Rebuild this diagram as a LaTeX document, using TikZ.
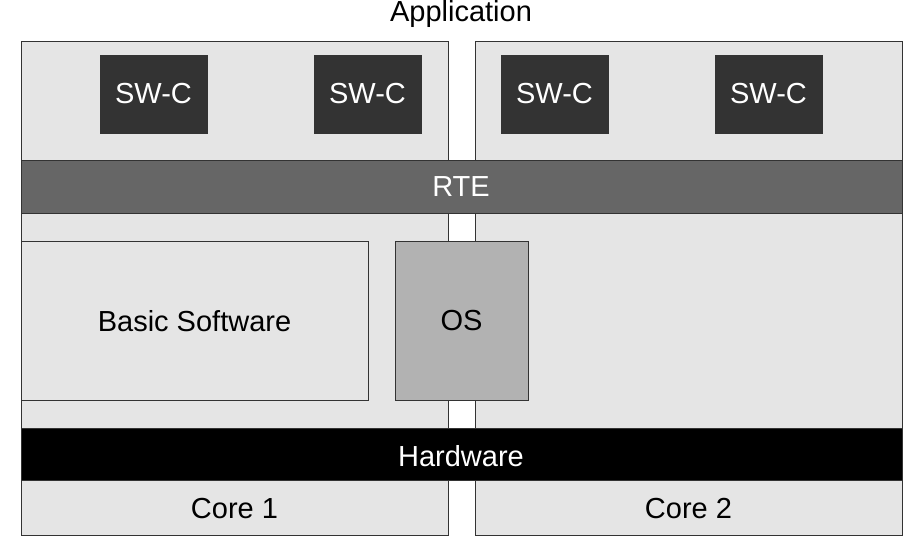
\documentclass[tikz,border=0pt]{standalone}
\usepackage{fontspec}
\setmainfont{Liberation Sans}
\begin{document}
\begin{tikzpicture}[x=1pt,y=-1pt,
  box/.style={draw=black!80,line width=0.8pt},
  lbl/.style={font=\fontsize{29}{32}\selectfont,inner sep=0pt}]
\useasboundingbox (0,0) rectangle (903,551);
\fill[white] (0,0) rectangle (903,551);
\node[lbl] (app) at (461,14) {Application};
\draw[box,fill=black!10] (21,41) rectangle (448,535);
\draw[box,fill=black!10] (475,41) rectangle (902,535);
\foreach \x/\n in {100/a,314/b,501/c,715/d}{
  \draw[box,fill=black!80] (\x,55) rectangle (\x+107,133);
  \node[lbl,text=white] (sw\n) at (\x+53.5,94) {SW-C};
}
\draw[box,fill=black!60] (21,160) rectangle (902,213);
\node[lbl,text=white] (rte) at (461,187) {RTE};
\draw[box,fill=black!10] (21,241) rectangle (368,400);
\node[lbl] (bsw) at (194.5,321) {Basic Software};
\draw[box,fill=black!30] (395,241) rectangle (528,400);
\node[lbl] (os) at (461.5,321) {OS};
\draw[box,fill=black] (21,428) rectangle (902,480);
\node[lbl,text=white] (hw) at (461,456) {Hardware};
\node[lbl] (c1) at (234.5,509) {Core 1};
\node[lbl] (c2) at (688.5,509) {Core 2};
\end{tikzpicture}
\end{document}
